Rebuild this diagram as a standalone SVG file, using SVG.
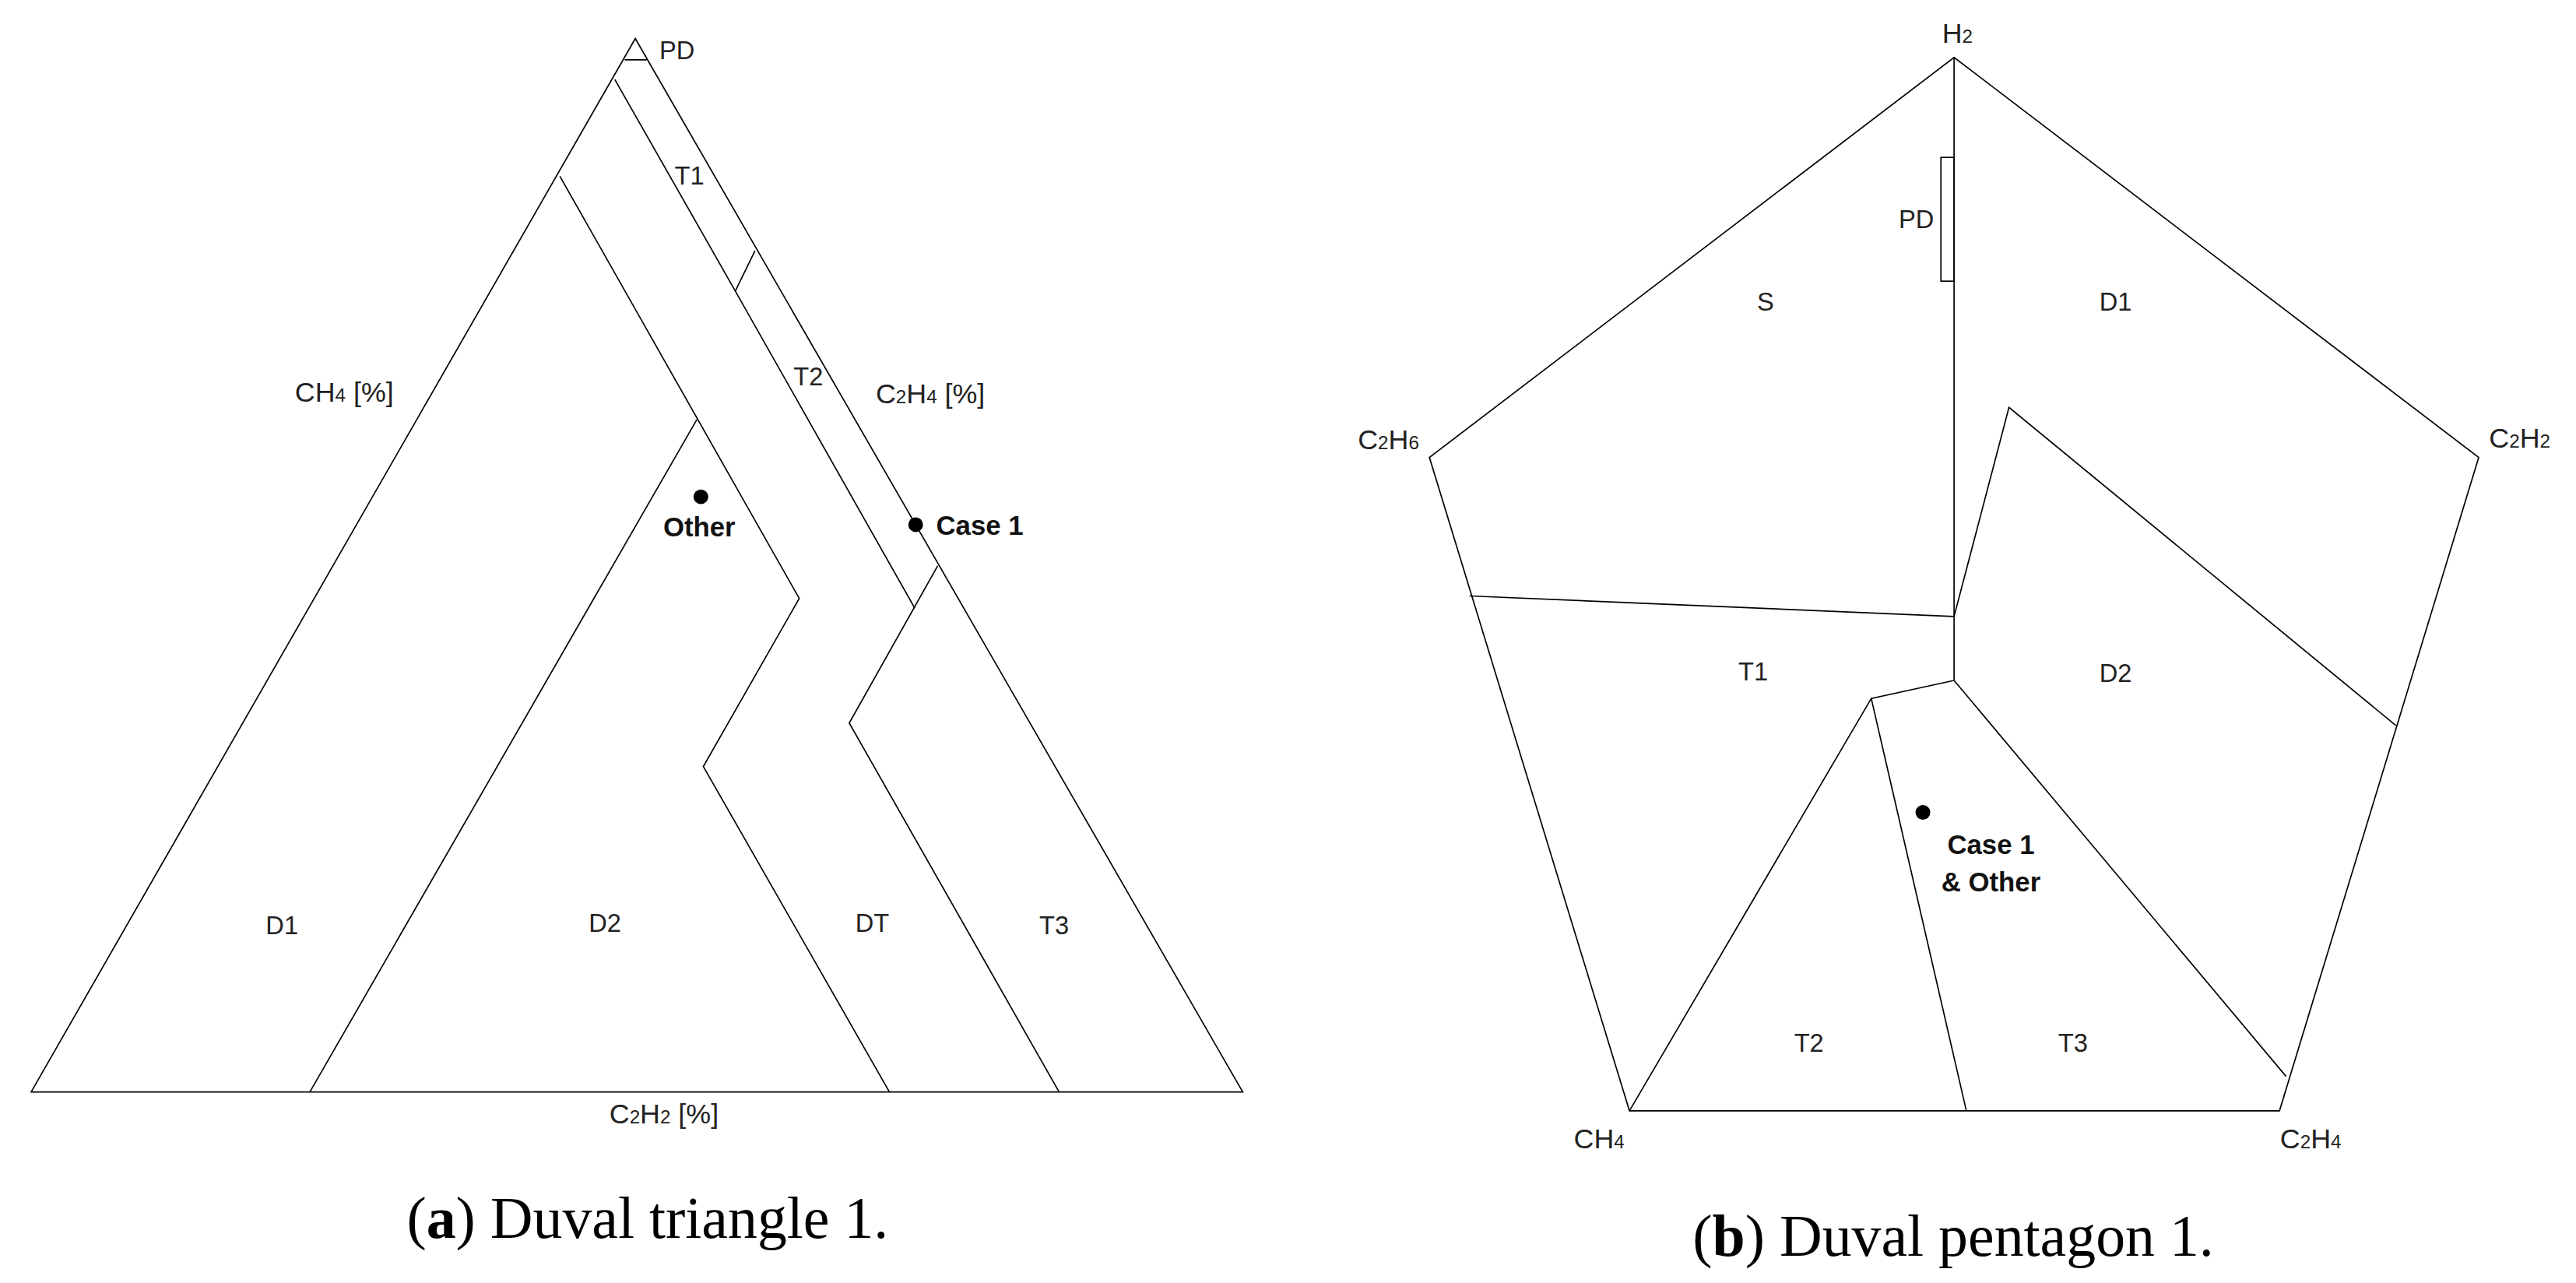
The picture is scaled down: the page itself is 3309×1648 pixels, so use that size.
<svg xmlns="http://www.w3.org/2000/svg" width="3309" height="1648" viewBox="0 0 3309 1648">
<style>
.l{fill:none;stroke:#000;stroke-width:1.6}
.t{font-family:"Liberation Sans",Arial,sans-serif;font-size:31px;fill:#222;text-anchor:middle}
.b{font-family:"Liberation Sans",Arial,sans-serif;font-size:33px;font-weight:bold;fill:#111}
.c{font-family:"Liberation Serif","Times New Roman",serif;font-size:72px;fill:#000;text-anchor:middle}
.s{font-size:23px}
</style>
<rect width="3309" height="1648" fill="#fff"/>
<g id="triangle" transform="scale(1.053)">
<g id="connectors">
<path class="l" d="M775,47 L1516,1332 L38,1332 Z"/>
<path class="l" d="M762,73 L789,73"/>
<path class="l" d="M750,97 L897,355 L1116,742"/>
<path class="l" d="M897,355 L921,306"/>
<path class="l" d="M1144,690 L1036,882 L1292,1332"/>
<path class="l" d="M683,215 L975,730 L858,935 L1085,1332"/>
<path class="l" d="M850,512 L378,1332"/>
</g>
<g id="labels-a">
<text class="t" x="826" y="72">PD</text>
<text class="t" x="841" y="225">T1</text>
<text class="t" x="986" y="470">T2</text>
<text class="t" x="420" y="490" style="font-size:34px">CH<tspan class="s">4</tspan> [%]</text>
<text class="t" x="1135" y="492" style="font-size:34px">C<tspan class="s">2</tspan>H<tspan class="s">4</tspan> [%]</text>
<text class="t" x="344" y="1140">D1</text>
<text class="t" x="738" y="1137">D2</text>
<text class="t" x="1064" y="1137">DT</text>
<text class="t" x="1286" y="1140">T3</text>
<text class="t" x="810" y="1370" style="font-size:34px">C<tspan class="s">2</tspan>H<tspan class="s">2</tspan> [%]</text>
</g>
<g id="case1-a"><circle cx="1117" cy="640" r="9"/><text class="b" x="1142" y="652">Case 1</text></g>
<g id="other-a"><circle cx="855" cy="606" r="9"/><text class="b" x="853" y="654" text-anchor="middle">Other</text></g>
<text class="c" x="790" y="1510"><tspan>(</tspan><tspan font-weight="bold">a</tspan><tspan>) Duval triangle 1.</tspan></text>
</g>
<g id="pentagon" transform="translate(1654,0) scale(1.053)">
<g id="connectors-b">
<path class="l" d="M813,70 L1453,558 L1210,1355 L417,1355 L173,558 Z"/>
<path class="l" d="M813,70 L813,830"/>
<path class="l" d="M222,727 L813,752"/>
<path class="l" d="M813,752 L880,497 L1352,885"/>
<path class="l" d="M813,830 L712,852 L417,1355"/>
<path class="l" d="M712,852 L828,1355"/>
<path class="l" d="M813,830 L1218,1313"/>
<rect class="l" x="797" y="192" width="16" height="151"/>
</g>
<g id="labels-b">
<text class="t" x="817" y="52" style="font-size:34px">H<tspan class="s">2</tspan></text>
<text class="t" x="123" y="548" style="font-size:34px">C<tspan class="s">2</tspan>H<tspan class="s">6</tspan></text>
<text class="t" x="1503" y="546" style="font-size:34px">C<tspan class="s">2</tspan>H<tspan class="s">2</tspan></text>
<text class="t" x="380" y="1401" style="font-size:34px">CH<tspan class="s">4</tspan></text>
<text class="t" x="1248" y="1401" style="font-size:34px">C<tspan class="s">2</tspan>H<tspan class="s">4</tspan></text>
<text class="t" x="767" y="278">PD</text>
<text class="t" x="583" y="379">S</text>
<text class="t" x="1010" y="379">D1</text>
<text class="t" x="568" y="830">T1</text>
<text class="t" x="1010" y="832">D2</text>
<text class="t" x="636" y="1283">T2</text>
<text class="t" x="958" y="1283">T3</text>
</g>
<g id="case1-b"><circle cx="775" cy="991" r="9"/><text class="b" x="858" y="1042" text-anchor="middle">Case 1</text><text class="b" x="858" y="1087" text-anchor="middle">&amp; Other</text></g>
<text class="c" x="812" y="1532"><tspan>(</tspan><tspan font-weight="bold">b</tspan><tspan>) Duval pentagon 1.</tspan></text>
</g>
</svg>
